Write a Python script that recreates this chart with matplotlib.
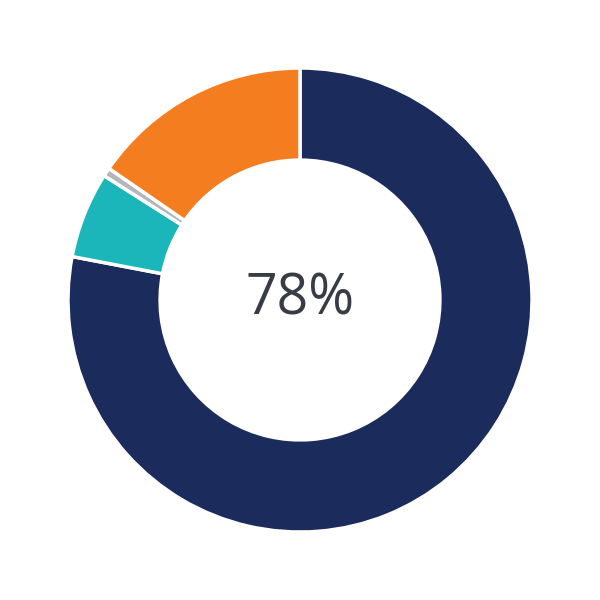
import matplotlib
matplotlib.use("Agg")
import matplotlib.pyplot as plt

labels = ["Navy", "Teal", "Gray", "Orange"]
values = [78, 6, 0.6, 15.4]
colors = ["#1b2b5b", "#1bb6b9", "#b3b6bc", "#f47d20"]
center_label = "78%"

fig, ax = plt.subplots(figsize=(6, 6), dpi=100)
fig.subplots_adjust(left=0, right=1, bottom=0, top=1)

# donut, clockwise from the top
ax.pie(values, colors=colors, startangle=90, counterclock=False,
       radius=1.0,
       wedgeprops=dict(width=0.397, edgecolor="white", linewidth=2.5))
ax.text(0, 0, center_label, ha="center", va="center", fontsize=40,
        color="#363d45", family="Open Sans")

ax.set_xlim(-1.293, 1.293)
ax.set_ylim(-1.293, 1.293)
ax.set_aspect("equal")
ax.axis("off")

fig.savefig("out.png", dpi=100, facecolor="white")
